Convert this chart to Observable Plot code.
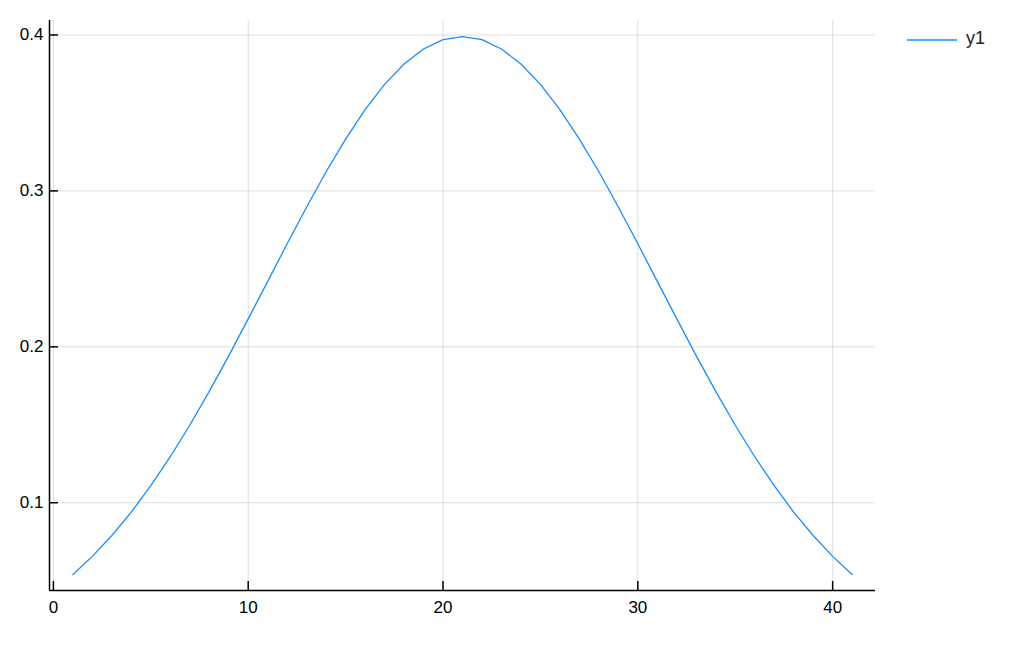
<!DOCTYPE html>
<html><head><meta charset="utf-8">
<script src="https://cdn.jsdelivr.net/npm/d3@7"></script>
<script src="https://cdn.jsdelivr.net/npm/@observablehq/plot@0.6"></script>
<style>
html,body{margin:0;padding:0;background:#fff;}
#wrap{position:relative;width:1024px;height:666px;}
#legend{position:absolute;left:907px;top:28px;font-family:"Liberation Sans",Arial,sans-serif;font-size:18px;color:#222;display:flex;align-items:center;}
</style></head>
<body><div id="wrap"><div id="legend"><svg width="50" height="20"><line x1="0" y1="11" x2="50" y2="11" stroke="#1a8cf9" stroke-width="1.5"/></svg><span style="margin-left:9px">y1</span></div></div>
<script>
const xs = [1,2,3,4,5,6,7,8,9,10,11,12,13,14,15,16,17,18,19,20,21,22,23,24,25,26,27,28,29,30,31,32,33,34,35,36,37,38,39,40,41];
const ys = [0.0540,0.0656,0.0790,0.0940,0.1109,0.1295,0.1497,0.1714,0.1942,0.2179,0.2420,0.2661,0.2897,0.3123,0.3332,0.3521,0.3683,0.3814,0.3910,0.3970,0.3989,0.3970,0.3910,0.3814,0.3683,0.3521,0.3332,0.3123,0.2897,0.2661,0.2420,0.2179,0.1942,0.1714,0.1497,0.1295,0.1109,0.0940,0.0790,0.0656,0.0540];
const xTicks = [0,10,20,30,40];
const yTicks = [0.1,0.2,0.3,0.4];
const xTickLabels = ["0","10","20","30","40"];
const yTickLabels = ["0.1","0.2","0.3","0.4"];
const data = xs.map((x,i)=>({x, y: ys[i]}));
const xDom = [-0.2, 42.2];
const yDom = [0.0437, 0.4093];
const font = '"Liberation Sans", Arial, sans-serif';
const chart = Plot.plot({
  width: 1024, height: 666,
  marginLeft: 49, marginRight: 149, marginTop: 20, marginBottom: 76,
  style: {fontFamily: font, background: "#fff"},
  x: {domain: xDom, label: null, axis: null},
  y: {domain: yDom, label: null, axis: null},
  marks: [
    Plot.gridX(xTicks, {stroke: "#000", strokeOpacity: 0.13, strokeWidth: 1}),
    Plot.gridY(yTicks, {stroke: "#000", strokeOpacity: 0.13, strokeWidth: 1}),
    Plot.ruleX(xTicks, {y1: yDom[0], y2: yDom[0] + 0.0058, stroke: "#000", strokeWidth: 1.5}),
    Plot.ruleY(yTicks, {x1: xDom[0], x2: xDom[0] + 0.46, stroke: "#000", strokeWidth: 1.5}),
    Plot.text(xTicks, {x: d => d, y: yDom[0], text: (d, i) => xTickLabels[i], dy: 17, fontSize: 17, fill: "#000", textAnchor: "middle"}),
    Plot.text(yTicks, {x: xDom[0], y: d => d, text: (d, i) => yTickLabels[i], dx: -6, fontSize: 17, fill: "#000", textAnchor: "end"}),
    Plot.ruleX([xDom[0]], {stroke: "#000", strokeWidth: 1.5}),
    Plot.ruleY([yDom[0]], {stroke: "#000", strokeWidth: 1.5}),
    Plot.line(data, {x: "x", y: "y", stroke: "#1a8cf9", strokeWidth: 1.3})
  ]
});
document.getElementById("wrap").prepend(chart);
</script></body></html>
